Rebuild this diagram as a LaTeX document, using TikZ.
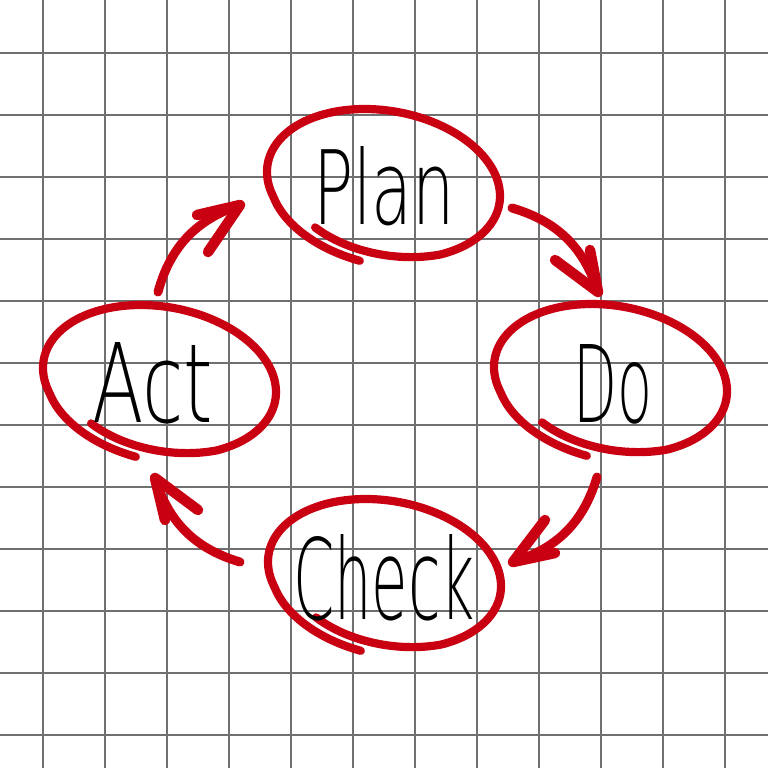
\documentclass[tikz,border=0pt]{standalone}
\usepackage{fontspec}
\usepackage{graphicx}
\newfontfamily\handfont{DejaVuSans-ExtraLight.ttf}
\definecolor{pdcared}{RGB}{200,0,18}
\definecolor{gridgray}{RGB}{112,112,112}
\tikzset{
  gridline/.style={draw=gridgray, line width=1.8pt},
  eggline/.style={draw=pdcared, line width=8.2pt, line cap=round, line join=round},
  shaftline/.style={draw=pdcared, line width=9pt, line cap=round},
  barbline/.style={draw=pdcared, line width=10.5pt, line cap=round, line join=round},
  wordnode/.style={inner sep=0pt, outer sep=0pt, font=\handfont\fontsize{116pt}{120pt}\selectfont},
  declare function={sf(\t)=1-0.1*max(0,(\t-70)/70)+0.09*max(0,(-190-\t)/60);}
}
\newcommand\pdcaegg[2]{%
  \begin{scope}[shift={(#1)}, xslant=-0.25]
    \draw[eggline] plot[smooth, domain=0:390, samples=140, variable=\u]
      ({115*sf(140-\u)*cos(140-\u)}, {75*sf(140-\u)*sin(140-\u)});
  \end{scope}}
\begin{document}
\begin{tikzpicture}[x=1pt, y=-1pt]
  \useasboundingbox (0,0) rectangle (768,768);
  \fill[white] (0,0) rectangle (768,768);
  % grid
  \foreach \k in {0,...,11} {
    \draw[gridline] ({43.3+62*\k},0) -- ({43.3+62*\k},768);
    \draw[gridline] (0,{53.3+62*\k}) -- (768,{53.3+62*\k});
  }
  % ellipse centres
  \coordinate (planc) at (383.5,184);
  \coordinate (actc) at (159.5,380);
  \coordinate (doc) at (610.5,379);
  \coordinate (checkc) at (384.5,574);
  \pdcaegg{planc}{}
  \pdcaegg{actc}{}
  \pdcaegg{doc}{}
  \pdcaegg{checkc}{}
  % words
  \node[wordnode] (plan) at (384,186) {\resizebox{142pt}{78pt}{Plan}};
  \node[wordnode] (act) at (152.5,383) {\resizebox{121pt}{80pt}{Act}};
  \node[wordnode] (do) at (612.5,384) {\resizebox{79pt}{78pt}{Do}};
  \node[wordnode] (check) at (384,577.5) {\resizebox{182pt}{85pt}{Check}};
  % arrows
  \coordinate (a1s) at (158,292); \coordinate (a1t) at (240,205);
  \coordinate (a1b1) at (197,215); \coordinate (a1b2) at (208,252);
  \coordinate (a2s) at (512,208); \coordinate (a2t) at (598,292);
  \coordinate (a2b1) at (555,260); \coordinate (a2b2) at (590,250);
  \coordinate (a3s) at (597,477); \coordinate (a3t) at (513,562);
  \coordinate (a3b1) at (545,520); \coordinate (a3b2) at (555,553);
  \coordinate (a4s) at (240,562); \coordinate (a4t) at (155,478);
  \coordinate (a4b1) at (165,520); \coordinate (a4b2) at (198,510);
  \foreach \a in {a1,a2,a3,a4} {
    \draw[shaftline] (\a s) to[bend left=28] (\a t);
    \draw[barbline] (\a b1) -- (\a t) -- (\a b2);
  }
\end{tikzpicture}
\end{document}
